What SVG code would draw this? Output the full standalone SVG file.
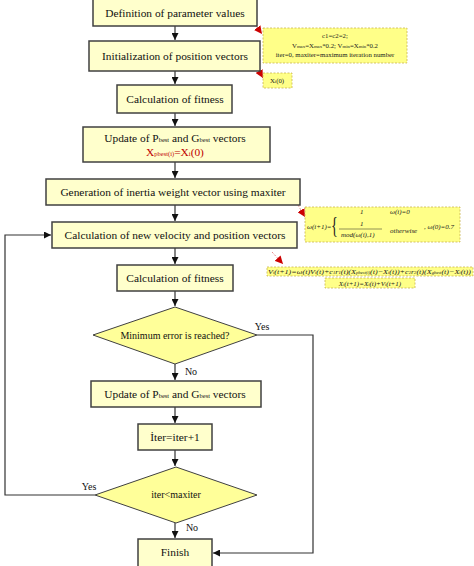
<svg xmlns="http://www.w3.org/2000/svg" width="474" height="566" viewBox="0 0 474 566">
<style>
.box{fill:#FFFFCC;stroke:#404040;stroke-width:1.5}
.dia{fill:#FFFF99;stroke:#404040;stroke-width:1}
.ann{fill:#FFFF88;stroke:#C8B450;stroke-width:0.8;stroke-dasharray:2,1.5}
.t{font-family:"Liberation Serif","Times New Roman",serif;font-size:11.4px;fill:#111;text-anchor:middle}
.s{font-size:6.5px}
.a{font-family:"Liberation Serif","Times New Roman",serif;font-size:6.8px;fill:#222}
.m{font-family:"Liberation Serif","Times New Roman",serif;font-style:italic;font-size:7px;fill:#222}
.c{fill:none;stroke:#333;stroke-width:1.2}
.r{fill:none;stroke:#E07070;stroke-width:0.8;stroke-dasharray:2,1.5}
</style>
<defs>
<marker id="ar" viewBox="0 0 10 10" refX="10" refY="5" markerWidth="7" markerHeight="7" markerUnits="userSpaceOnUse" orient="auto"><path d="M0,0L10,5L0,10z" fill="#111"/></marker>
<marker id="rar" viewBox="0 0 10 10" refX="10" refY="5" markerWidth="8" markerHeight="8" markerUnits="userSpaceOnUse" orient="auto"><path d="M0,0L10,5L0,10z" fill="#CC0000"/></marker>
</defs>
<rect width="474" height="566" fill="#fff"/>

<g id="connectors">
<path class="c" d="M175,26V40" marker-end="url(#ar)"/>
<path class="c" d="M175,71V84" marker-end="url(#ar)"/>
<path class="c" d="M175,113V126" marker-end="url(#ar)"/>
<path class="c" d="M175,162V178" marker-end="url(#ar)"/>
<path class="c" d="M175,205V221" marker-end="url(#ar)"/>
<path class="c" d="M175,248V264" marker-end="url(#ar)"/>
<path class="c" d="M175,291V306" marker-end="url(#ar)"/>
<path class="c" d="M175,364V380" marker-end="url(#ar)"/>
<path class="c" d="M175,407V423" marker-end="url(#ar)"/>
<path class="c" d="M175,450V466" marker-end="url(#ar)"/>
<path class="c" d="M175,523V538" marker-end="url(#ar)"/>
<path class="c" d="M257,335H313V553H213" marker-end="url(#ar)"/>
<path class="c" d="M95,495H5V235H51" marker-end="url(#ar)"/>
<path class="r" d="M256,26L262,34" marker-end="url(#rar)"/>
<path class="r" d="M259,71L263,78" marker-end="url(#rar)"/>
<path class="r" d="M298,205L305,217" marker-end="url(#rar)"/>
<path class="r" d="M272,252L283,264" marker-end="url(#rar)"/>
<text class="t" x="262" y="330" style="font-size:10px">Yes</text>
<text class="t" x="191" y="375" style="font-size:10px">No</text>
<text class="t" x="89" y="490" style="font-size:10px">Yes</text>
<text class="t" x="192" y="531" style="font-size:10px">No</text>
</g>

<g id="n1"><rect class="box" x="93" y="-1" width="164" height="27"/><text class="t" x="175" y="17">Definition of parameter values</text></g>
<g id="n2"><rect class="box" x="89" y="41" width="171" height="30"/><text class="t" x="175" y="60">Initialization of position vectors</text></g>
<g id="n3"><rect class="box" x="117" y="85" width="115" height="28"/><text class="t" x="175" y="103">Calculation of fitness</text></g>
<g id="n4"><rect class="box" x="83" y="127" width="187" height="35"/>
<text class="t" x="175" y="142">Update of P<tspan class="s">best</tspan> and G<tspan class="s">best</tspan> vectors</text>
<text class="t" x="175" y="156" style="fill:#C00000">X<tspan class="s">pbest(i)</tspan>=X<tspan class="s">i</tspan>(0)</text></g>
<g id="n5"><rect class="box" x="46" y="179" width="254" height="26"/><text class="t" x="173" y="196">Generation of inertia weight vector using maxiter</text></g>
<g id="n6"><rect class="box" x="52" y="222" width="245" height="26"/><text class="t" x="175" y="239">Calculation of new velocity and position vectors</text></g>
<g id="n7"><rect class="box" x="117" y="265" width="116" height="26"/><text class="t" x="175" y="282">Calculation of fitness</text></g>
<g id="d1"><path class="dia" d="M175,307L257,335L175,364L93,335Z"/><text class="t" x="175" y="339" style="font-size:10px">Minimum error is reached?</text></g>
<g id="n8"><rect class="box" x="91" y="381" width="170" height="26"/><text class="t" x="175" y="398">Update of P<tspan class="s">best</tspan> and G<tspan class="s">best</tspan> vectors</text></g>
<g id="n9"><rect class="box" x="138" y="424" width="74" height="26"/><text class="t" x="175" y="441">İter=iter+1</text></g>
<g id="d2"><path class="dia" d="M176,467L257,495L176,523L95,495Z"/><text class="t" x="176" y="498" style="font-size:10px">iter&lt;maxiter</text></g>
<g id="n10"><rect class="box" x="138" y="539" width="74" height="28"/><text class="t" x="175" y="556">Finish</text></g>

<g id="a1"><rect class="ann" x="263" y="28" width="144" height="35"/>
<text class="a" x="335" y="38" text-anchor="middle">c1=c2=2;</text>
<text class="a" x="335" y="48" text-anchor="middle">V<tspan font-size="4.8">max</tspan>=X<tspan font-size="4.8">max</tspan>*0.2; V<tspan font-size="4.8">min</tspan>=X<tspan font-size="4.8">min</tspan>*0.2</text>
<text class="a" x="335" y="57" text-anchor="middle">iter=0, maxiter=maximum iteration number</text></g>
<g id="a2"><rect class="ann" x="263" y="73" width="29" height="15"/><text class="a" x="277" y="83" text-anchor="middle">X<tspan font-size="4.8">i</tspan>(0)</text></g>
<g id="a3"><rect class="ann" x="305" y="207" width="155" height="35"/>
<text class="m" x="307" y="229">ω(<tspan>i</tspan>+1)=</text>
<text x="331" y="233" style="font-family:'Liberation Serif',serif;font-size:24px;fill:#222" transform="translate(331,0) scale(0.6,1) translate(-331,0)">{</text>
<text class="m" x="360" y="214" font-style="normal">1</text>
<text class="m" x="360" y="226" font-style="normal">1</text>
<line x1="339" y1="229" x2="382" y2="229" stroke="#222" stroke-width="0.5"/>
<text class="m" x="341" y="237">mod(ω(i),1)</text>
<text class="m" x="390" y="214">ω(i)=0</text>
<text class="m" x="390" y="233">otherwise</text>
<text class="m" x="424" y="229">, ω(0)=0.7</text></g>
<g id="a4"><rect class="ann" x="267" y="267" width="206" height="9"/>
<text class="m" x="268" y="274" font-size="6.2" textLength="203" lengthAdjust="spacingAndGlyphs">V<tspan font-size="4">i</tspan>(t+1)=ω(t)V<tspan font-size="4">i</tspan>(t)+c<tspan font-size="4">1</tspan>r<tspan font-size="4">1</tspan>(t)(X<tspan font-size="4">pbest(i)</tspan>(t)−X<tspan font-size="4">i</tspan>(t))+c<tspan font-size="4">2</tspan>r<tspan font-size="4">2</tspan>(t)(X<tspan font-size="4">gbest</tspan>(t)−X<tspan font-size="4">i</tspan>(t))</text>
<rect class="ann" x="325" y="278" width="90" height="10"/>
<text class="m" x="370" y="286" text-anchor="middle" font-size="7.5">X<tspan font-size="4.5">i</tspan>(t+1)=X<tspan font-size="4.5">i</tspan>(t)+V<tspan font-size="4.5">i</tspan>(t+1)</text></g>
</svg>
